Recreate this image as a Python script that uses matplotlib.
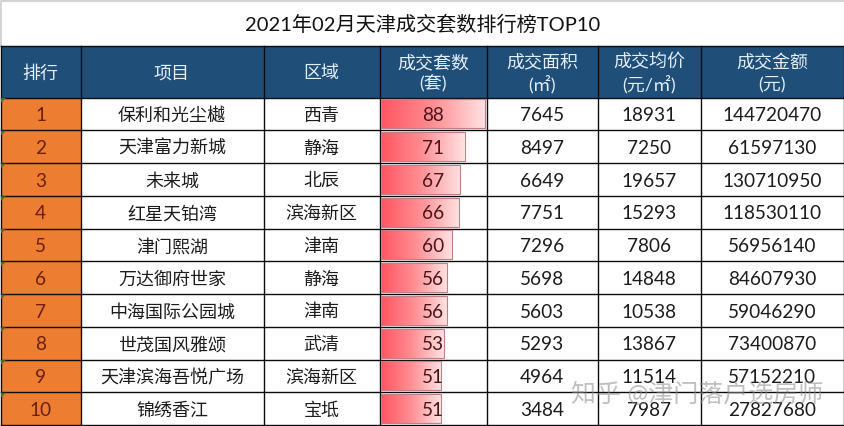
import numpy as np
import matplotlib
matplotlib.use("Agg")
import matplotlib.pyplot as plt
from matplotlib.colors import LinearSegmentedColormap
from matplotlib.patches import Polygon, Rectangle

plt.rcParams['font.family'] = ['Lato', 'Noto Sans CJK SC', 'DejaVu Sans']

title = "2021年02月天津成交套数排行榜TOP10"
headers = ["排行", "项目", "区域", "成交套数\n(套)", "成交面积\n(㎡)", "成交均价\n(元/㎡)", "成交金额\n(元)"]
ranks = [1, 2, 3, 4, 5, 6, 7, 8, 9, 10]
projects = ["保利和光尘樾", "天津富力新城", "未来城", "红星天铂湾", "津门熙湖", "万达御府世家",
            "中海国际公园城", "世茂国风雅颂", "天津滨海吾悦广场", "锦绣香江"]
districts = ["西青", "静海", "北辰", "滨海新区", "津南", "静海", "津南", "武清", "滨海新区", "宝坻"]
units = [88, 71, 67, 66, 60, 56, 56, 53, 51, 51]
areas = [7645, 8497, 6649, 7751, 7296, 5698, 5603, 5293, 4964, 3484]
prices = [18931, 7250, 19657, 15293, 7806, 14848, 10538, 13867, 11514, 7987]
amounts = [144720470, 61597130, 130710950, 118530110, 56956140, 84607930, 59046290, 73400870, 57152210, 27827680]
watermark = "知乎 @津门落户选房师"

W, H = 844, 426
col_edges = [0.5, 80.5, 263.5, 379.5, 486.5, 597.5, 700.5, 843.5]
head_top, head_bot, tbl_bot = 45.5, 97.5, 425.0
n = len(ranks)
row_h = (tbl_bot - head_bot) / n
col_mid = [(a + b) / 2 for a, b in zip(col_edges[:-1], col_edges[1:])]

NAVY = "#1f4e78"
ORANGE = "#ed7d31"
LINE = "#0c0c10"
HEAD_TXT = "#e3eef7"
BODY_TXT = "#1c1c1c"
px = 72 / 100
txt_dy = 1.8
num_size = 19 * px

fig = plt.figure(figsize=(W / 100, H / 100), dpi=100, facecolor="white")
ax = fig.add_axes([0, 0, 1, 1])
ax.set_xlim(0, W)
ax.set_ylim(H, 0)
ax.axis("off")

# outer faint frame and title
ax.plot([0.5, 0.5, W], [head_top, 0.8, 0.8], color="#d4d4d4", lw=1.5, zorder=1)
ax.text((col_edges[0] + col_edges[-1]) / 2 + 0.5, 24.5, title, ha="center", va="center",
        fontsize=20.2 * px, color="#111111")

# header and rank fills
ax.add_patch(Rectangle((col_edges[0], head_top), col_edges[-1] - col_edges[0], head_bot - head_top,
                       fc=NAVY, ec="none", zorder=1))
ax.add_patch(Rectangle((col_edges[0], head_bot), col_edges[1] - col_edges[0], tbl_bot - head_bot,
                       fc=ORANGE, ec="none", zorder=1))

# grid
for x in col_edges:
    ax.plot([x, x], [head_top, tbl_bot], color=LINE, lw=1.0, zorder=3)
ax.plot([col_edges[0], col_edges[-1]], [head_top, head_top], color=LINE, lw=1.0, zorder=3)
for i in range(n + 1):
    y = head_bot + i * row_h
    ax.plot([col_edges[0], col_edges[-1]], [y, y], color=LINE, lw=1.0, zorder=3)

# header text
for j, h in enumerate(headers):
    ax.text(col_mid[j], (head_top + head_bot) / 2 + txt_dy, h, ha="center", va="center",
            fontsize=18 * px, color=HEAD_TXT, linespacing=1.3, zorder=4)

# body text
for i in range(n):
    y = head_bot + (i + 0.5) * row_h + txt_dy
    top = head_bot + i * row_h
    ax.add_patch(Polygon([[1, top + 0.5], [6, top + 0.5], [1, top + 5]],
                         fc="#3f6f2a", ec="none", zorder=4))
    ax.text(col_mid[0], y, str(ranks[i]), ha="center", va="center", fontsize=num_size, color="#6b1f10", zorder=4)
    ax.text(col_mid[1], y, projects[i], ha="center", va="center", fontsize=18 * px, color=BODY_TXT, zorder=4)
    ax.text(col_mid[2], y, districts[i], ha="center", va="center", fontsize=18 * px, color=BODY_TXT, zorder=4)
    ax.text(col_mid[4], y, str(areas[i]), ha="center", va="center", fontsize=num_size, color=BODY_TXT, zorder=4)
    ax.text(col_mid[5], y, str(prices[i]), ha="center", va="center", fontsize=num_size, color=BODY_TXT, zorder=4)
    ax.text(col_mid[6], y, str(amounts[i]), ha="center", va="center", fontsize=num_size, color=BODY_TXT, zorder=4)

# data bars on their own value scale
bar_left, bar_right = 381.0, 485.0
bx = fig.add_axes([bar_left / W, 1 - tbl_bot / H, (bar_right - bar_left) / W, (tbl_bot - head_bot) / H],
                  zorder=2)
bx.patch.set_alpha(0)
bx.axis("off")
cmap = LinearSegmentedColormap.from_list("bar", ["#ff5560", "#ff8f95", "#ffe3e3"])
grad = np.linspace(0, 1, 256).reshape(1, -1)
ypos = np.arange(n) + 0.5
bars = bx.barh(ypos, units, height=0.88, left=0, fc="none", ec="#c08088", lw=0.8, zorder=3, clip_on=False)
for b, v, yc in zip(bars, units, ypos):
    im = bx.imshow(grad, extent=(0, v, yc + 0.44, yc - 0.44), aspect="auto", cmap=cmap, zorder=2)
    im.set_clip_path(b)
bx.set_xlim(0, max(units))
bx.set_ylim(n, 0)
cell_mid = (col_mid[3] - bar_left) / (bar_right - bar_left) * max(units)
for v, yc in zip(units, ypos):
    bx.annotate(str(v), (cell_mid, yc), xytext=(0, -txt_dy * px), textcoords="offset points",
                ha="center", va="center", fontsize=num_size, color="#4a1518", zorder=5,
                annotation_clip=False)

# watermark
fig.text(697 / W, 1 - 393.5 / H, watermark, ha="center", va="center", fontsize=25 * px,
         color="#8c8c8c", alpha=0.55, zorder=10)

fig.savefig("out.png", dpi=100, facecolor="white")
